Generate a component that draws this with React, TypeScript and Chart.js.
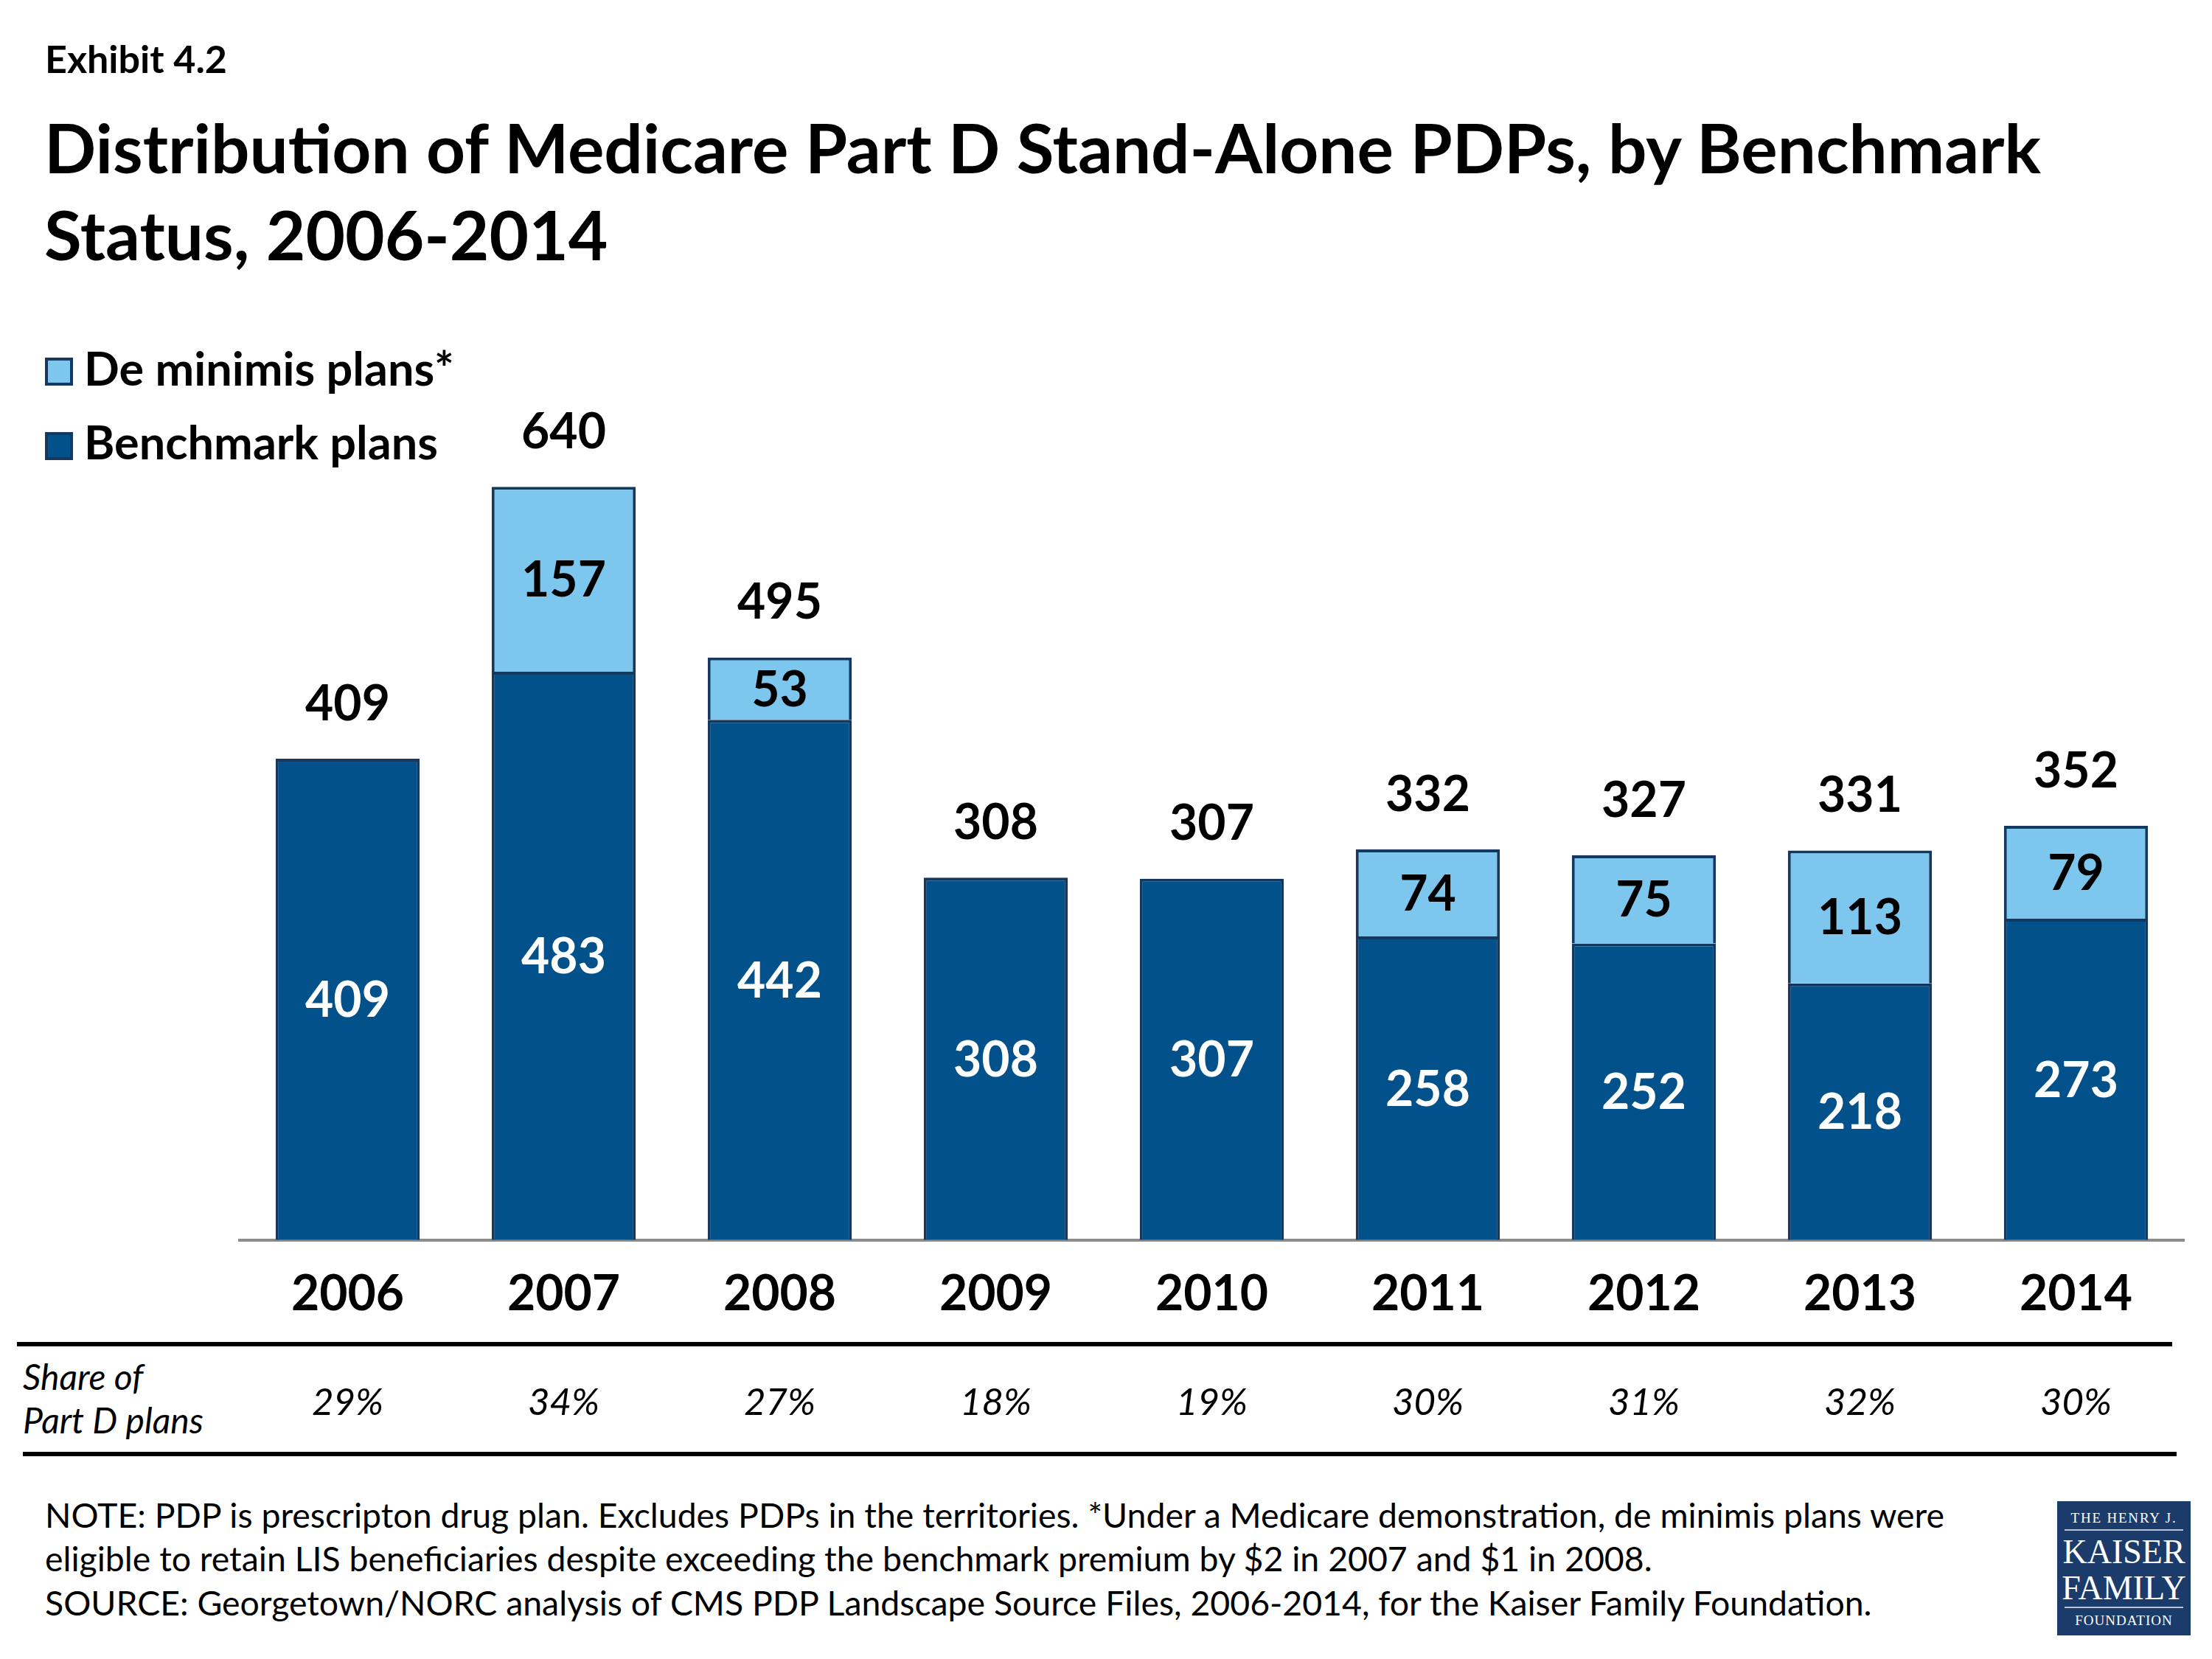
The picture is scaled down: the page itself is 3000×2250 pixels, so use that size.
import React, { useEffect, useRef } from 'react';
import { Chart, registerables } from 'chart.js';

Chart.register(...registerables);

// ---------- data ----------
const years = ['2006', '2007', '2008', '2009', '2010', '2011', '2012', '2013', '2014'];
const benchmarkPlans = [409, 483, 442, 308, 307, 258, 252, 218, 273];
const deMinimisPlans: (number | null)[] = [null, 157, 53, null, null, 74, 75, 113, 79];
const shareOfPartD = ['29%', '34%', '27%', '18%', '19%', '30%', '31%', '32%', '30%'];
const seriesNames = ['De minimis plans*', 'Benchmark plans'];
const titleLines = ['Distribution of Medicare Part D Stand-Alone PDPs, by Benchmark', 'Status, 2006-2014'];
const exhibitLabel = 'Exhibit 4.2';
const rowLabelLines = ['Share of', 'Part D plans'];
const noteLines = [
  'NOTE: PDP is prescripton drug plan. Excludes PDPs in the territories. *Under a Medicare demonstration, de minimis plans were',
  'eligible to retain LIS beneficiaries despite exceeding the benchmark premium by $2 in 2007 and $1 in 2008.',
  'SOURCE: Georgetown/NORC analysis of CMS PDP Landscape Source Files, 2006-2014, for the Kaiser Family Foundation.',
];

// ---------- style ----------
const FONT = 'Lato, "Open Sans", sans-serif';
const BENCH = '#03518A';
const DEMIN = '#7DC7EE';
const BORDER = '#15385F';
const LOGO_BG = '#1B3B6B';
const CAP = 0.7165; // Lato cap height ratio
const ASC = 0.887; // baseline offset for line-height 1

const PLOT_LEFT = 325;
const PLOT_RIGHT = 2962;

const Txt: React.FC<{ x: number; baseline: number; size: number; weight?: number; italic?: boolean; children: React.ReactNode; color?: string }> = ({ x, baseline, size, weight = 400, italic = false, children, color = '#000' }) => (
  <div
    style={{
      position: 'absolute',
      left: x,
      top: baseline - ASC * size,
      fontSize: size,
      lineHeight: 1,
      fontWeight: weight,
      fontStyle: italic ? 'italic' : 'normal',
      whiteSpace: 'nowrap',
      color,
    }}
  >
    {children}
  </div>
);

const labelPlugin = {
  id: 'stackLabels',
  afterDatasetsDraw(chart: any) {
    const ctx = chart.ctx;
    const size = 66;
    ctx.save();
    ctx.font = `bold ${size}px ${FONT}`;
    ctx.textAlign = 'center';
    ctx.textBaseline = 'alphabetic';
    const colors = ['#FFFFFF', '#000000'];
    const tops: number[] = [];
    chart.data.datasets.forEach((ds: any, di: number) => {
      const meta = chart.getDatasetMeta(di);
      meta.data.forEach((el: any, i: number) => {
        const v = ds.data[i];
        if (v === null || v === undefined) return;
        const cy = (el.y + el.base) / 2;
        ctx.fillStyle = colors[di];
        ctx.fillText(String(v), el.x, cy + (CAP * size) / 2);
        tops[i] = tops[i] === undefined ? el.y : Math.min(tops[i], el.y);
      });
    });
    const meta0 = chart.getDatasetMeta(0);
    ctx.fillStyle = '#000';
    years.forEach((_, i) => {
      const total = benchmarkPlans[i] + (deMinimisPlans[i] ?? 0);
      const x = meta0.data[i].x;
      ctx.fillText(String(total), x, tops[i] - 76 + (CAP * size) / 2);
    });
    ctx.restore();
  },
};

export default function App() {
  const canvasRef = useRef<HTMLCanvasElement | null>(null);

  useEffect(() => {
    if (!canvasRef.current) return;
    Chart.defaults.font.family = FONT;
    const chart = new Chart(canvasRef.current, {
      type: 'bar',
      data: {
        labels: years,
        datasets: [
          {
            label: seriesNames[1],
            data: benchmarkPlans,
            backgroundColor: BENCH,
            borderColor: BORDER,
            borderWidth: 4,
            categoryPercentage: 1,
            barPercentage: 0.667,
            stack: 's',
          },
          {
            label: seriesNames[0],
            data: deMinimisPlans,
            backgroundColor: DEMIN,
            borderColor: BORDER,
            borderWidth: 4,
            categoryPercentage: 1,
            barPercentage: 0.667,
            stack: 's',
          },
        ],
      },
      options: {
        animation: false,
        responsive: false,
        maintainAspectRatio: false,
        devicePixelRatio: 1,
        layout: { padding: { left: PLOT_LEFT, right: 3000 - PLOT_RIGHT, top: 405, bottom: 0 } },
        scales: {
          x: {
            stacked: true,
            grid: { display: false, drawTicks: false },
            border: { display: true, color: '#8C8C8C', width: 4 },
            ticks: { font: { size: 66, weight: 'bold', family: FONT }, color: '#000', padding: 34 },
          },
          y: { stacked: true, display: false, min: 0, max: 800 },
        },
        plugins: { legend: { display: false }, tooltip: { enabled: false } },
      },
      plugins: [labelPlugin],
    } as any);
    return () => chart.destroy();
  }, []);

  const colW = (PLOT_RIGHT - PLOT_LEFT) / years.length;

  return (
    <div
      style={{
        position: 'absolute',
        left: 0,
        top: 0,
        width: 3000,
        height: 2250,
        background: '#fff',
        fontFamily: FONT,
        color: '#000',
        overflow: 'hidden',
      }}
    >
      <Txt x={61} baseline={99} size={52} weight={700}>{exhibitLabel}</Txt>
      <Txt x={60} baseline={236} size={92.5} weight={700}>{titleLines[0]}</Txt>
      <Txt x={60} baseline={354} size={92.5} weight={700}>{titleLines[1]}</Txt>

      {/* legend */}
      {[DEMIN, BENCH].map((c, i) => (
        <div
          key={i}
          style={{
            position: 'absolute',
            left: 61,
            top: 485 + i * 101,
            width: 38,
            height: 38,
            boxSizing: 'border-box',
            background: c,
            border: `4px solid ${BORDER}`,
          }}
        />
      ))}
      <Txt x={114} baseline={523} size={63} weight={700}>{seriesNames[0]}</Txt>
      <Txt x={114} baseline={623} size={63} weight={700}>{seriesNames[1]}</Txt>

      <canvas
        ref={canvasRef}
        width={3000}
        height={1829}
        style={{ position: 'absolute', left: 0, top: 0, width: 3000, height: 1829 }}
      />

      {/* table lines */}
      <div style={{ position: 'absolute', left: 23, top: 1820, width: 2923, height: 6, background: '#000' }} />
      <div style={{ position: 'absolute', left: 31, top: 1969, width: 2921, height: 6, background: '#000' }} />

      <Txt x={31} baseline={1886} size={48} italic>{rowLabelLines[0]}</Txt>
      <Txt x={31} baseline={1945} size={48} italic>{rowLabelLines[1]}</Txt>

      {shareOfPartD.map((s, i) => (
        <div
          key={s + i}
          style={{
            position: 'absolute',
            left: PLOT_LEFT + i * colW,
            width: colW,
            top: 1919 - ASC * 51,
            fontSize: 51,
            lineHeight: 1,
            fontStyle: 'italic',
            textAlign: 'center',
          }}
        >
          {s}
        </div>
      ))}

      {noteLines.map((l, i) => (
        <Txt key={i} x={61} baseline={2072 + i * 59.5} size={46.4}>{l}</Txt>
      ))}

      {/* logo */}
      <div
        style={{
          position: 'absolute',
          left: 2790,
          top: 2036,
          width: 181,
          height: 182,
          background: LOGO_BG,
          color: '#fff',
          fontFamily: '"Liberation Serif", "DejaVu Serif", serif',
          textAlign: 'center',
        }}
      >
        <div style={{ position: 'absolute', left: 0, right: 0, top: 13, fontSize: 19, lineHeight: 1, letterSpacing: 1.8 }}>THE HENRY J.</div>
        <div style={{ position: 'absolute', left: 10, right: 10, top: 38, height: 2, background: '#B8C4D6' }} />
        <div style={{ position: 'absolute', left: 0, right: 0, top: 46, fontSize: 46, lineHeight: 1 }}>KAISER</div>
        <div style={{ position: 'absolute', left: 0, right: 0, top: 95, fontSize: 46, lineHeight: 1 }}>FAMILY</div>
        <div style={{ position: 'absolute', left: 10, right: 10, top: 143, height: 2, background: '#B8C4D6' }} />
        <div style={{ position: 'absolute', left: 0, right: 0, top: 152, fontSize: 19, lineHeight: 1, letterSpacing: 1 }}>FOUNDATION</div>
      </div>
    </div>
  );
}
